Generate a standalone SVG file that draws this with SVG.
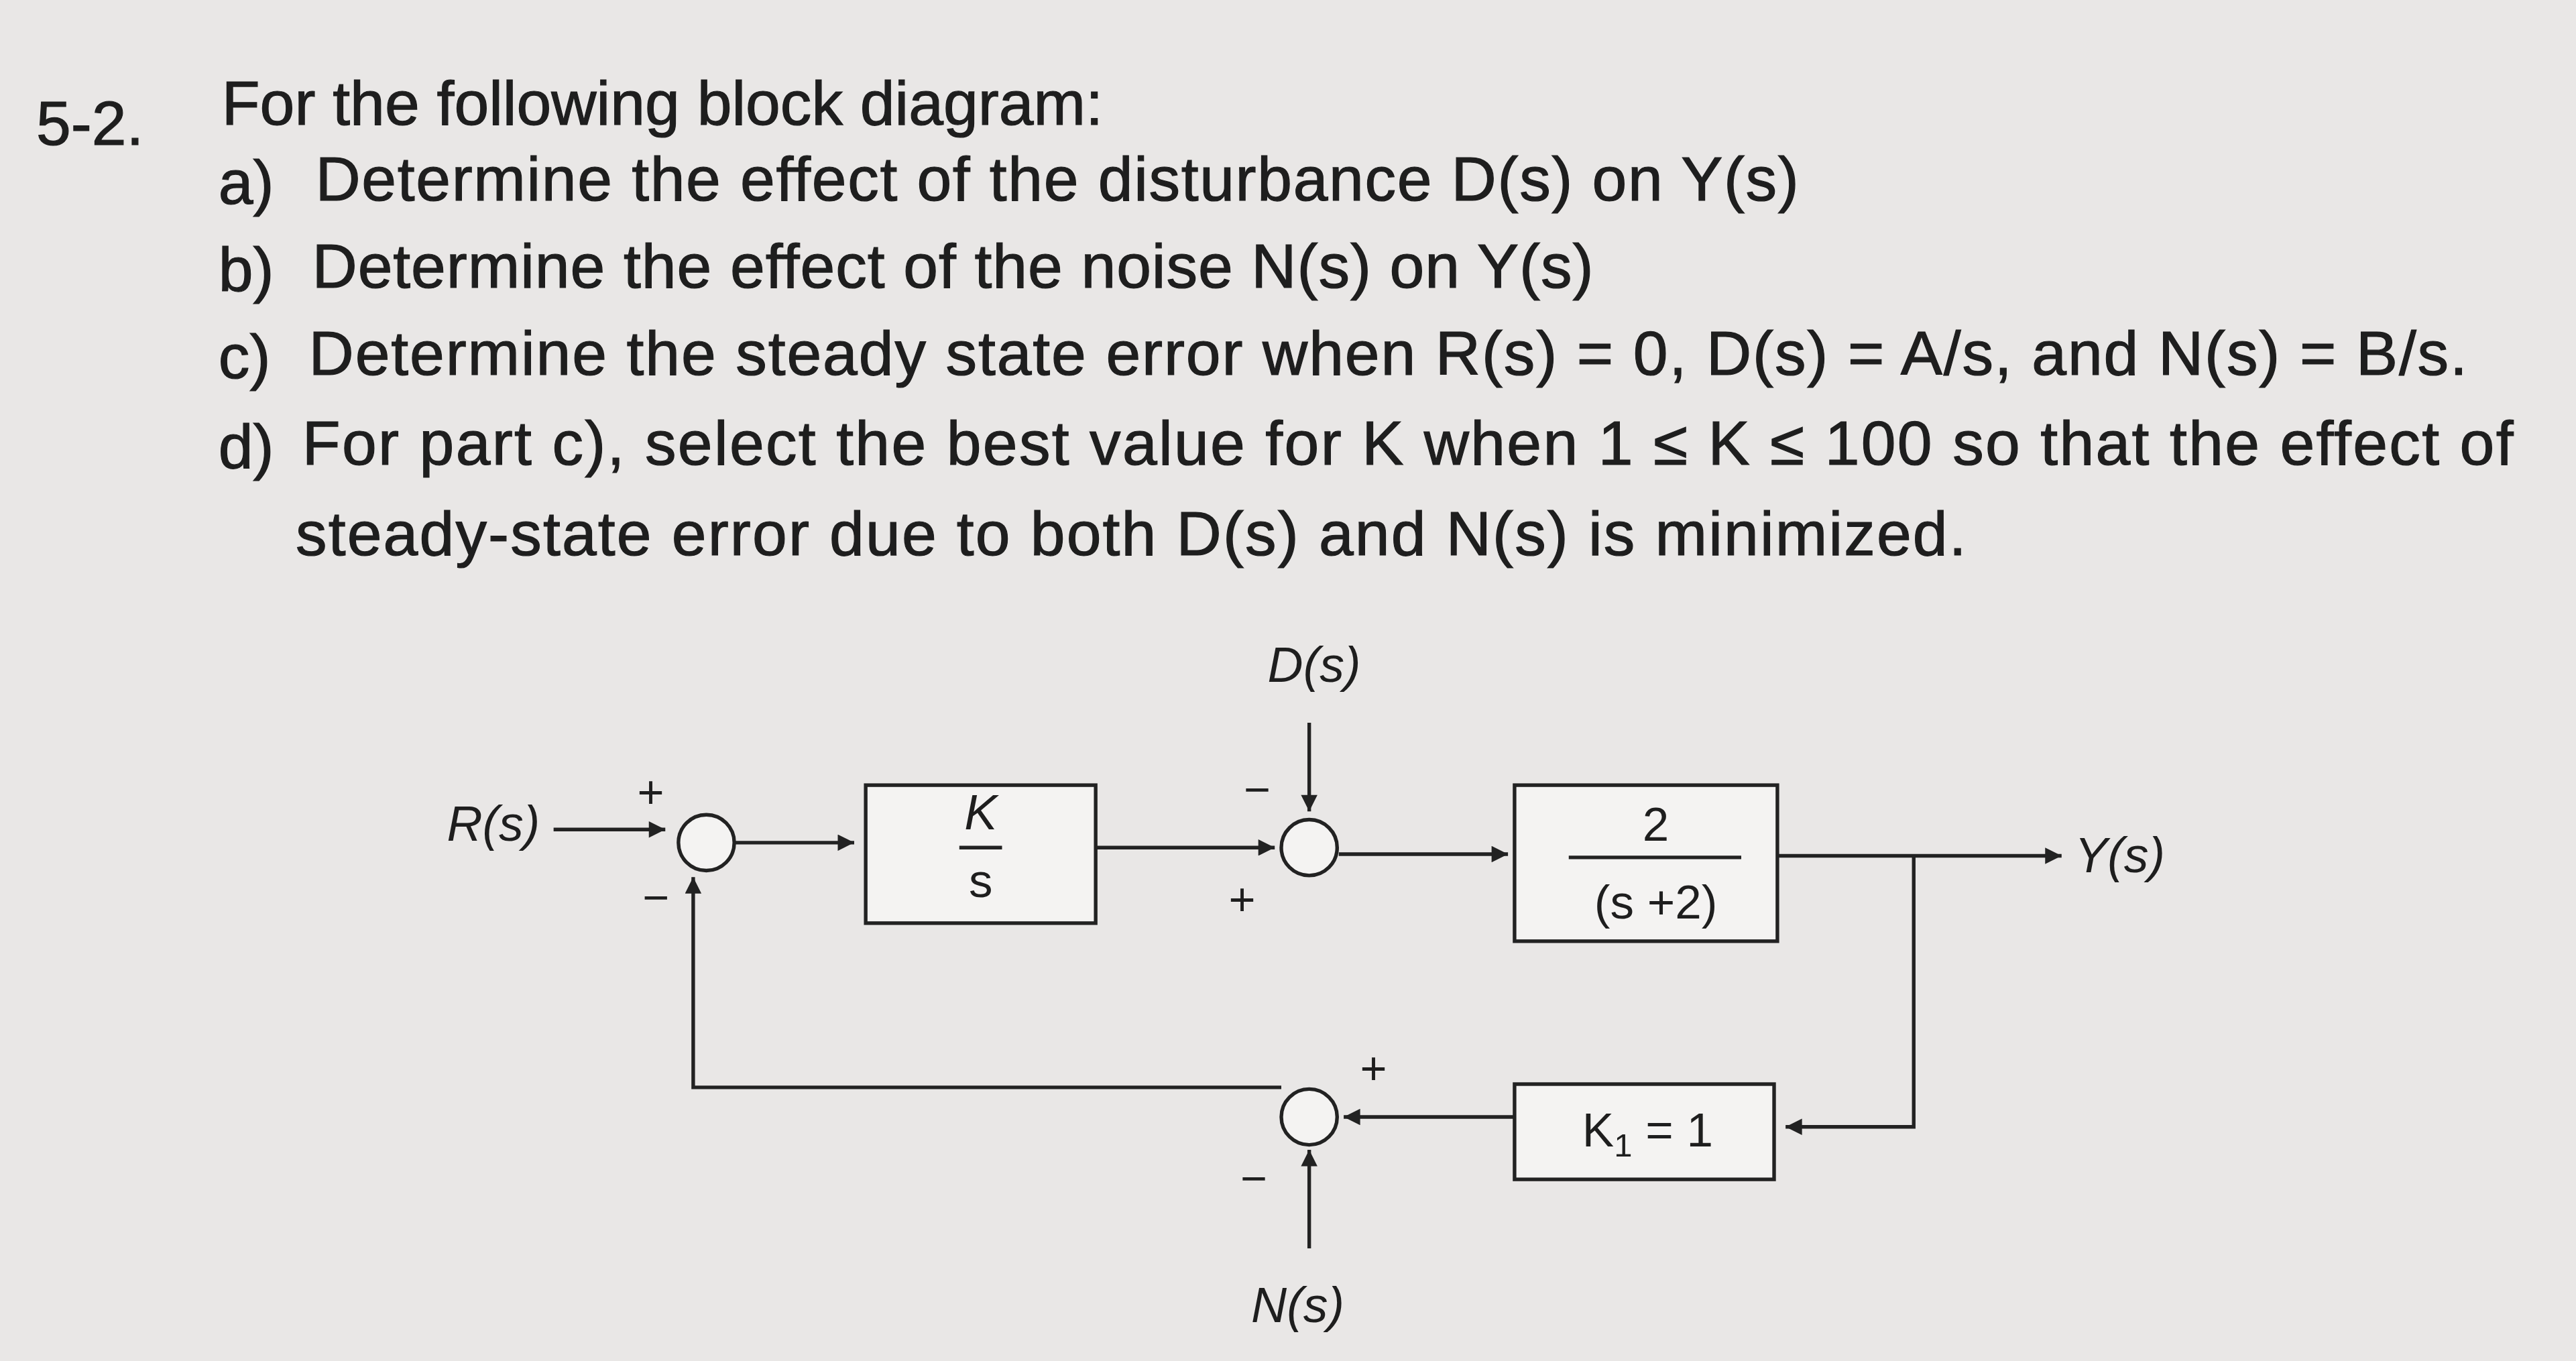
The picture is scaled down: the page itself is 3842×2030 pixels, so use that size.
<svg xmlns="http://www.w3.org/2000/svg" width="3842" height="2030" viewBox="0 0 3842 2030">
<style>
.q{font-family:"Liberation Sans",Arial,sans-serif;font-size:38px;fill:#1e1e1e;stroke:#1e1e1e;stroke-width:0.5}
.l{font-family:"Liberation Sans",Arial,sans-serif;font-size:30px;font-style:italic;fill:#1e1e1e}
.n{font-family:"Liberation Sans",Arial,sans-serif;font-size:29px;fill:#1e1e1e}
.s{font-family:"Liberation Sans",Arial,sans-serif;font-size:28px;fill:#1e1e1e}
.w{stroke:#222;stroke-width:2.2;fill:none}
.b{stroke:#222;stroke-width:2.2;fill:#f4f3f2}
</style>
<defs><marker id="a" viewBox="0 0 10 10" refX="10" refY="5" markerWidth="14" markerHeight="10" markerUnits="userSpaceOnUse" orient="auto"><path d="M0,0L10,5L0,10z" fill="#222"/></marker></defs>
<rect width="3842" height="2030" fill="#e9e7e6"/>
<g transform="scale(2.45)">
<g id="question">
<text class="q" x="22" y="88">5-2.</text>
<text class="q" x="135" y="76">For the following block diagram:</text>
<text class="q" x="133" y="124">a)</text><text class="q" x="192" y="122" textLength="903">Determine the effect of the disturbance D(s) on Y(s)</text>
<text class="q" x="133" y="177">b)</text><text class="q" x="190" y="175" textLength="780">Determine the effect of the noise N(s) on Y(s)</text>
<text class="q" x="133" y="230">c)</text><text class="q" x="188" y="228" textLength="1314">Determine the steady state error when R(s) = 0, D(s) = A/s, and N(s) = B/s.</text>
<text class="q" x="133" y="285">d)</text><text class="q" x="184" y="283" textLength="1346">For part c), select the best value for K when 1 ≤ K ≤ 100 so that the effect of</text>
<text class="q" x="180" y="338" textLength="1017">steady-state error due to both D(s) and N(s) is minimized.</text>
</g>
<g id="conn">
<path class="w" d="M337,505H405" marker-end="url(#a)"/>
<path class="w" d="M447,513H520" marker-end="url(#a)"/>
<path class="w" d="M667,516H776" marker-end="url(#a)"/>
<path class="w" d="M797,440V494" marker-end="url(#a)"/>
<path class="w" d="M815,520H918" marker-end="url(#a)"/>
<path class="w" d="M1082,521H1255" marker-end="url(#a)"/>
<path class="w" d="M1165,521V686H1087" marker-end="url(#a)"/>
<path class="w" d="M922,680H818" marker-end="url(#a)"/>
<path class="w" d="M797,760V700" marker-end="url(#a)"/>
<path class="w" d="M780,662H422V534" marker-end="url(#a)"/>
</g>
<g id="R"><text class="l" x="272" y="512">R(s)</text></g>
<g id="sum1"><circle class="b" cx="430" cy="513" r="17"/><text class="s" x="388" y="492">+</text><text class="s" x="391" y="556">−</text></g>
<g id="Ks"><rect class="b" x="527" y="478" width="140" height="84"/><text class="l" x="597" y="505" text-anchor="middle">K</text><path class="w" d="M584,516H610"/><text class="n" x="597" y="546" text-anchor="middle">s</text></g>
<g id="D"><text class="l" x="800" y="415" text-anchor="middle">D(s)</text></g>
<g id="sum2"><circle class="b" cx="797" cy="516" r="17"/><text class="s" x="757" y="490">−</text><text class="s" x="748" y="557">+</text></g>
<g id="G"><rect class="b" x="922" y="478" width="160" height="95"/><text class="n" x="1008" y="512" text-anchor="middle">2</text><path class="w" d="M955,522H1060"/><text class="n" x="1008" y="559" text-anchor="middle">(s +2)</text></g>
<g id="Y"><text class="l" x="1263" y="531">Y(s)</text></g>
<g id="K1"><rect class="b" x="922" y="660" width="158" height="58"/><text class="n" x="1003" y="698" text-anchor="middle">K<tspan font-size="20" dy="6">1</tspan><tspan dy="-6"> = 1</tspan></text></g>
<g id="sum3"><circle class="b" cx="797" cy="680" r="17"/><text class="s" x="828" y="660">+</text><text class="s" x="755" y="727">−</text></g>
<g id="N"><text class="l" x="790" y="805" text-anchor="middle">N(s)</text></g>
</g>
</svg>
